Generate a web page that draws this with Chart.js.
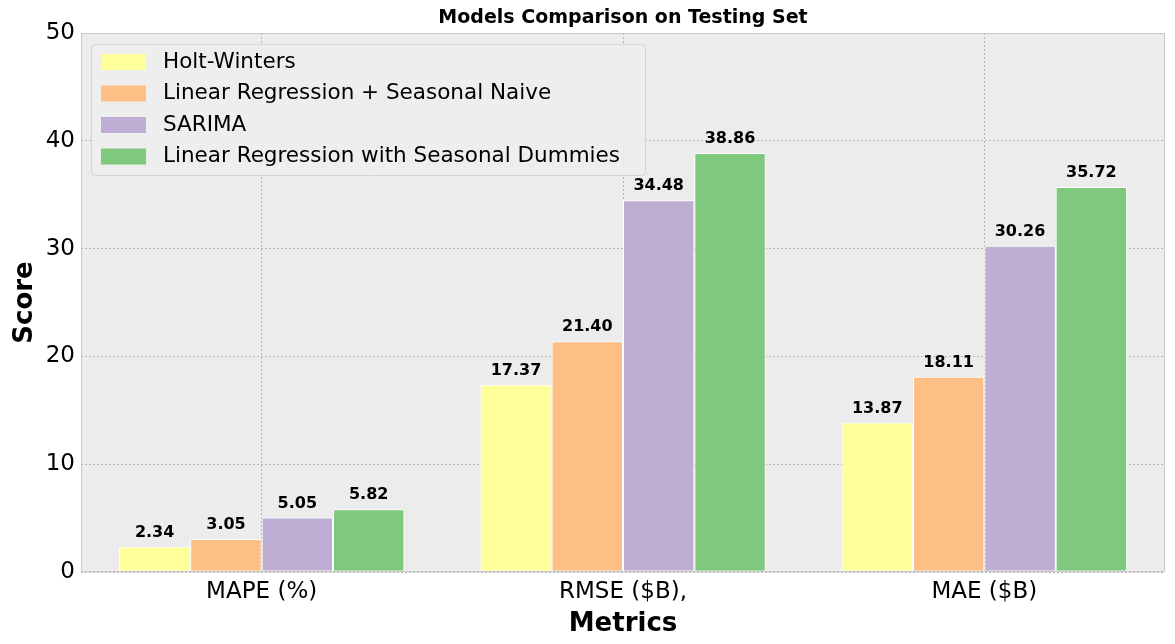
<!DOCTYPE html>
<html>
<head>
<meta charset="utf-8">
<script src="https://cdn.jsdelivr.net/npm/chart.js@4"></script>
<style>
  body { margin: 0; background: #ffffff; }
  canvas { display: block; }
</style>
</head>
<body>
<canvas id="chart" width="1175" height="644"></canvas>
<script>
const metrics = ['MAPE (%)', ['RMSE ($B),'], 'MAE ($B)'];
const modelNames = ['Holt-Winters', 'Linear Regression + Seasonal Naive', 'SARIMA', 'Linear Regression with Seasonal Dummies'];
const holtWinters = [2.34, 17.37, 13.87];
const lrSeasonalNaive = [3.05, 21.40, 18.11];
const sarima = [5.05, 34.48, 30.26];
const lrDummies = [5.82, 38.86, 35.72];
const colors = ['#ffff99', '#fdbf86', '#beaed4', '#7fc97f'];
const yTicks = [0, 10, 20, 30, 40, 50];

const FONT = 'DejaVu Sans';

const backgroundPlugin = {
    id: 'bg',
    beforeDraw(chart) {
        const { ctx, chartArea: a } = chart;
        ctx.save();
        ctx.fillStyle = '#ececec';
        ctx.fillRect(a.left, a.top, a.right - a.left, a.bottom - a.top);
        ctx.restore();
    },
    afterDraw(chart) {
        const { ctx, chartArea: a } = chart;
        ctx.save();
        ctx.strokeStyle = '#c8c8c8';
        ctx.lineWidth = 1;
        ctx.strokeRect(a.left + 0.5, a.top + 0.5, a.right - a.left - 1, a.bottom - a.top - 1);

        // title
        ctx.fillStyle = '#000';
        ctx.font = 'bold 19px ' + FONT;
        ctx.textAlign = 'center';
        ctx.textBaseline = 'middle';
        ctx.fillText('Models Comparison on Testing Set', (a.left + a.right) / 2, 18);

        // bar value labels
        ctx.font = 'bold 16px ' + FONT;
        ctx.textBaseline = 'bottom';
        chart.data.datasets.forEach((ds, i) => {
            chart.getDatasetMeta(i).data.forEach((bar, j) => {
                ctx.fillText(ds.data[j].toFixed(2), bar.x, bar.y - 6);
            });
        });

        // legend
        const lx = 91, ly = 44, lw = 554, lh = 131;
        ctx.fillStyle = 'rgba(238,238,238,0.85)';
        ctx.strokeStyle = '#d4d4d4';
        ctx.beginPath();
        ctx.roundRect(lx + 0.5, ly + 0.5, lw, lh, 4);
        ctx.fill();
        ctx.stroke();
        ctx.font = '21.5px ' + FONT;
        ctx.textAlign = 'left';
        ctx.textBaseline = 'middle';
        modelNames.forEach((name, i) => {
            const y = 62 + i * 31.5;
            ctx.fillStyle = colors[i];
            ctx.fillRect(101, y - 8, 45, 16);
            ctx.fillStyle = '#000';
            ctx.fillText(name, 163, y);
        });
        ctx.restore();
    }
};

const seriesData = [holtWinters, lrSeasonalNaive, sarima, lrDummies];

new Chart(document.getElementById('chart').getContext('2d'), {
    type: 'bar',
    data: {
        labels: metrics,
        datasets: seriesData.map((d, i) => ({
            label: modelNames[i],
            data: d,
            backgroundColor: colors[i],
            borderColor: '#ffffff',
            borderWidth: 1,
            borderSkipped: false,
            categoryPercentage: 0.79,
            barPercentage: 1.0
        }))
    },
    options: {
        responsive: false,
        animation: false,
        layout: { padding: { top: 33, right: 10, left: 6, bottom: 0 } },
        plugins: {
            legend: { display: false },
            title: { display: false },
            tooltip: { enabled: false }
        },
        scales: {
            x: {
                grid: { color: '#b4b4b4', offset: false, drawTicks: false },
                border: { display: false, dash: [2, 2] },
                ticks: { color: '#000', font: { family: FONT, size: 23 }, padding: 6 },
                title: { display: true, text: 'Metrics', color: '#000', font: { family: FONT, size: 26, weight: 'bold' }, padding: { top: -6 } },
                afterFit(scale) { scale.height = 72; }
            },
            y: {
                min: 0, max: 50,
                afterBuildTicks(scale) { scale.ticks = yTicks.map(v => ({ value: v })); },
                grid: { color: '#b4b4b4', drawTicks: false },
                border: { display: false, dash: [2, 2] },
                ticks: { color: '#000', font: { family: FONT, size: 23 }, padding: 6 },
                title: { display: true, text: 'Score', color: '#000', font: { family: FONT, size: 26, weight: 'bold' }, padding: { bottom: 2 } },
                afterFit(scale) { scale.width = 75; }
            }
        }
    },
    plugins: [backgroundPlugin]
});
</script>
</body>
</html>
